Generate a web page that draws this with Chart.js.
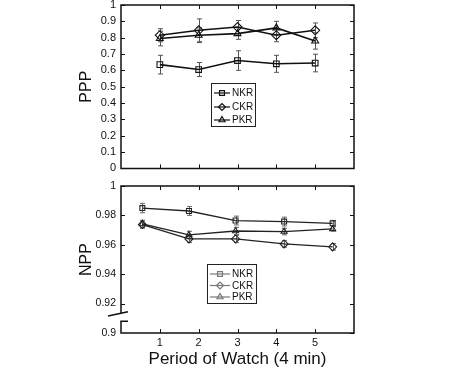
<!DOCTYPE html>
<html>
<head>
<meta charset="utf-8">
<script src="https://cdn.jsdelivr.net/npm/chart.js@4.4.1/dist/chart.umd.min.js"></script>
<style>
  html, body { margin: 0; padding: 0; background: #fff; }
  #wrap { position: relative; width: 474px; height: 376px; overflow: hidden; }
  #pppChart { position: absolute; left: 0; top: -20px; }
  #nppChart { position: absolute; left: 0; top: 160px; }
</style>
</head>
<body>
<div id="wrap">
  <canvas id="pppChart" width="474" height="200" style="width:474px;height:200px"></canvas>
  <canvas id="nppChart" width="474" height="216" style="width:474px;height:216px"></canvas>
</div>
<script>
// ---- data ----
const seriesNames = ['NKR', 'CKR', 'PKR'];
const seriesMarkers = ['rect', 'rectRot', 'triangle'];
const periodTicks = [1, 2, 3, 4, 5];

// upper panel (PPP)
const pppPeriods = [1, 2, 3, 4, 5];
const pppNKR = [0.635, 0.605, 0.66, 0.64, 0.645];
const pppCKR = [0.815, 0.845, 0.865, 0.815, 0.845];
const pppPKR = [0.795, 0.815, 0.825, 0.86, 0.78];
const pppNKRErr = [0.057, 0.043, 0.06, 0.052, 0.054];
const pppCKRErr = [0.04, 0.07, 0.04, 0.04, 0.045];
const pppPKRErr = [0.045, 0.045, 0.035, 0.04, 0.05];
const pppTicks = [0, 0.1, 0.2, 0.3, 0.4, 0.5, 0.6, 0.7, 0.8, 0.9, 1];

// lower panel (NPP)
const nppPeriods = [0.55, 1.75, 2.95, 4.2, 5.45];
const nppNKR = [0.985, 0.983, 0.9765, 0.9758, 0.9746];
const nppCKR = [0.9738, 0.964, 0.964, 0.9606, 0.9586];
const nppPKR = [0.9742, 0.9667, 0.9694, 0.969, 0.9708];
const nppNKRErr = [0.0032, 0.003, 0.003, 0.003, 0.002];
const nppCKRErr = [0.0025, 0.0025, 0.0025, 0.0022, 0.0022];
const nppPKRErr = [0.0025, 0.0025, 0.0025, 0.0022, 0.0015];
const nppTicks = [0.9, 0.92, 0.94, 0.96, 0.98, 1];

const FONT = "'Liberation Sans', Arial, sans-serif";

function makeSet(i, xs, ys, errs, color, width, radius) {
  return {
    label: seriesNames[i],
    data: xs.map((x, k) => ({ x: x, y: ys[k] })),
    errors: errs,
    pointStyle: seriesMarkers[i],
    pointRadius: seriesMarkers[i] === 'rectRot' ? radius : radius - 0.5,
    pointBorderWidth: 1.1,
    pointBackgroundColor: 'rgba(0,0,0,0)',
    pointBorderColor: color,
    borderColor: color,
    borderWidth: width,
    backgroundColor: 'rgba(0,0,0,0)',
    fill: false,
    tension: 0
  };
}

// error bars, inward ticks, frame, axis break and legend
const decoPlugin = {
  id: 'deco',
  beforeDatasetsDraw(chart, args, opts) {
    const { ctx, scales: { x, y } } = chart;
    ctx.save();
    ctx.strokeStyle = opts.errColor;
    ctx.lineWidth = 1;
    chart.data.datasets.forEach(ds => {
      ds.data.forEach((p, k) => {
        const e = ds.errors[k];
        const px = Math.round(x.getPixelForValue(p.x)) + 0.5;
        const yTop = y.getPixelForValue(p.y + e);
        const yBot = y.getPixelForValue(p.y - e);
        ctx.beginPath();
        ctx.moveTo(px, yTop); ctx.lineTo(px, yBot);
        ctx.moveTo(px - 2.5, yTop); ctx.lineTo(px + 2.5, yTop);
        ctx.moveTo(px - 2.5, yBot); ctx.lineTo(px + 2.5, yBot);
        ctx.stroke();
      });
    });
    ctx.restore();
  },
  afterDraw(chart, args, opts) {
    const { ctx, chartArea: a, scales: { x, y } } = chart;
    ctx.save();
    ctx.strokeStyle = '#111';
    ctx.lineWidth = 1.5;
    // frame
    ctx.beginPath();
    if (opts.breakAt) {
      const [b0, b1, d0, d1] = opts.breakAt.map(v => y.getPixelForValue(v));
      ctx.moveTo(a.left, b0); ctx.lineTo(a.left, a.top);
      ctx.lineTo(a.right, a.top); ctx.lineTo(a.right, a.bottom);
      ctx.lineTo(a.left, a.bottom); ctx.lineTo(a.left, b1);
      ctx.lineTo(a.left + 7, b1);
      ctx.moveTo(a.left - 13, d0); ctx.lineTo(a.left + 7, d1);
    } else {
      ctx.rect(a.left, a.top, a.right - a.left, a.bottom - a.top);
    }
    ctx.stroke();
    // inward tick marks on all four sides
    ctx.lineWidth = 1;
    ctx.beginPath();
    y.ticks.forEach(t => {
      const py = Math.round(y.getPixelForValue(t.value)) + 0.5;
      if (!(opts.breakAt && t.value <= y.min)) {
        ctx.moveTo(a.left, py); ctx.lineTo(a.left + 4, py);
      }
      ctx.moveTo(a.right, py); ctx.lineTo(a.right - 4, py);
    });
    periodTicks.forEach(v => {
      const px = Math.round(x.getPixelForValue(v)) + 0.5;
      ctx.moveTo(px, a.top); ctx.lineTo(px, a.top + 4);
      ctx.moveTo(px, a.bottom); ctx.lineTo(px, a.bottom - 4);
    });
    ctx.stroke();
    // legend box
    const L = opts.legend;
    const bx = a.left + L.dx, by = a.top + L.dy;
    ctx.fillStyle = '#fff';
    ctx.fillRect(bx, by, L.w, L.h);
    ctx.strokeStyle = '#222';
    ctx.lineWidth = 1;
    ctx.strokeRect(bx + 0.5, by + 0.5, L.w, L.h);
    ctx.font = '10px ' + FONT;
    ctx.textBaseline = 'middle';
    chart.data.datasets.forEach((ds, i) => {
      const ry = by + L.rows[i];
      ctx.strokeStyle = L.color;
      ctx.lineWidth = 1.2;
      ctx.beginPath();
      ctx.moveTo(bx + 3, ry); ctx.lineTo(bx + 3 + L.line, ry);
      ctx.stroke();
      ctx.fillStyle = 'rgba(0,0,0,0)';
      Chart.helpers.drawPoint(ctx, {
        pointStyle: ds.pointStyle, radius: 3.5, rotation: 0, borderWidth: 1
      }, bx + 3 + L.line / 2, ry);
      ctx.fillStyle = '#111';
      ctx.fillText(ds.label, bx + 5 + L.line, ry + 0.5);
    });
    ctx.restore();
  }
};

function yScale(min, max, ticks, title, fontSize) {
  return {
    type: 'linear', min: min, max: max,
    afterBuildTicks: s => { s.ticks = ticks.map(v => ({ value: v })); },
    afterFit: s => { s.width = 121; },
    grid: { display: false, drawTicks: false },
    border: { display: false },
    ticks: {
      padding: 5, color: '#111', font: { family: FONT, size: fontSize },
      callback: v => String(Math.round(v * 100) / 100)
    },
    title: { display: true, text: title, color: '#111', font: { family: FONT, size: 16 }, padding: { top: 77, bottom: 0 } }
  };
}

new Chart(document.getElementById('pppChart'), {
  type: 'line',
  data: {
    datasets: [
      makeSet(0, pppPeriods, pppNKR, pppNKRErr, '#111', 1.6, 4.5),
      makeSet(1, pppPeriods, pppCKR, pppCKRErr, '#111', 1.6, 4.5),
      makeSet(2, pppPeriods, pppPKR, pppPKRErr, '#111', 1.6, 4.5)
    ]
  },
  options: {
    responsive: false, animation: false,
    layout: { padding: { left: 0, right: 120, top: 25, bottom: 7 } },
    plugins: {
      legend: { display: false }, tooltip: { enabled: false },
      deco: { errColor: '#555', legend: { dx: 90, dy: 78, w: 44, h: 43, rows: [10, 24, 37], line: 16, color: '#111' } }
    },
    scales: {
      x: {
        type: 'linear', min: 0, max: 6,
        afterFit: s => { s.height = 0; },
        grid: { display: false, drawTicks: false }, border: { display: false },
        ticks: { display: false }
      },
      y: yScale(0, 1, pppTicks, 'PPP', 11)
    }
  },
  plugins: [decoPlugin]
});

new Chart(document.getElementById('nppChart'), {
  type: 'line',
  data: {
    datasets: [
      makeSet(0, nppPeriods, nppNKR, nppNKRErr, '#222', 1.3, 4),
      makeSet(1, nppPeriods, nppCKR, nppCKRErr, '#222', 1.3, 4),
      makeSet(2, nppPeriods, nppPKR, nppPKRErr, '#222', 1.3, 4)
    ]
  },
  options: {
    responsive: false, animation: false,
    layout: { padding: { left: 0, right: 120, top: 26, bottom: 0 } },
    plugins: {
      legend: { display: false }, tooltip: { enabled: false },
      deco: {
        errColor: '#666',
        breakAt: [0.9137, 0.908, 0.9116, 0.9145],
        legend: { dx: 86, dy: 78, w: 49, h: 39, rows: [10, 21.5, 33], line: 20, color: '#777' }
      }
    },
    scales: {
      x: {
        type: 'linear', min: 0, max: 6,
        afterBuildTicks: s => { s.ticks = periodTicks.map(v => ({ value: v })); },
        afterFit: s => { s.height = 43; },
        grid: { display: false, drawTicks: false }, border: { display: false },
        ticks: { padding: 3, color: '#111', font: { family: FONT, size: 11 } },
        title: { display: true, text: 'Period of Watch (4 min)', color: '#111', font: { family: FONT, size: 17 }, padding: { top: 0, bottom: 6 } }
      },
      y: yScale(0.9, 1, nppTicks, 'NPP', 10.5)
    }
  },
  plugins: [decoPlugin]
});
</script>
</body>
</html>
